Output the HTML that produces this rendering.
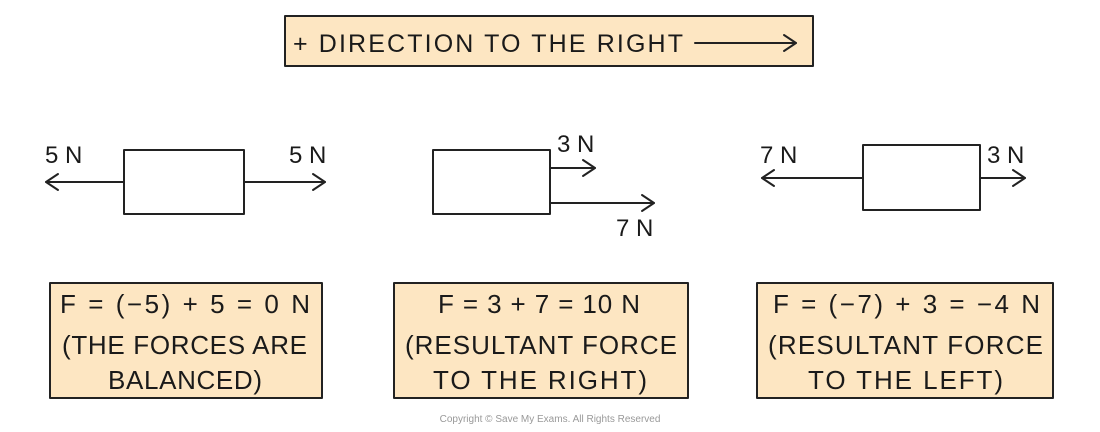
<!DOCTYPE html>
<html><head><meta charset="utf-8"><style>
html,body{margin:0;padding:0;background:#fff;}
svg{display:block;}
text{font-family:"Liberation Sans",sans-serif;fill:#1a1a1a;}
</style></head><body>
<svg width="1100" height="432" viewBox="0 0 1100 432" xmlns="http://www.w3.org/2000/svg">
<g stroke="#222" stroke-width="2" fill="none" stroke-linecap="round" stroke-linejoin="round">
<rect x="285" y="16" width="528" height="50" fill="#fde6c2"/>
<line x1="695" y1="43" x2="796" y2="43"/><polyline points="784,35 796,43 784,51"/>
<rect x="50" y="283" width="272" height="115" fill="#fde6c2"/>
<rect x="394" y="283" width="294" height="115" fill="#fde6c2"/>
<rect x="757" y="283" width="296" height="115" fill="#fde6c2"/>
<rect x="124" y="150" width="120" height="64" fill="#fff"/>
<line x1="46" y1="182" x2="124" y2="182"/><polyline points="58,174 46,182 58,190"/>
<line x1="244" y1="182" x2="325" y2="182"/><polyline points="313,174 325,182 313,190"/>
<rect x="433" y="150" width="117" height="64" fill="#fff"/>
<line x1="550" y1="168" x2="595" y2="168"/><polyline points="583,160 595,168 583,176"/>
<line x1="550" y1="203" x2="654" y2="203"/><polyline points="642,195 654,203 642,211"/>
<rect x="863" y="145" width="117" height="65" fill="#fff"/>
<line x1="762" y1="178" x2="863" y2="178"/><polyline points="774,170 762,178 774,186"/>
<line x1="980" y1="178" x2="1025" y2="178"/><polyline points="1013,170 1025,178 1013,186"/>
</g>
<text x="293" y="52" font-size="25" textLength="390" lengthAdjust="spacing">+ DIRECTION TO THE RIGHT</text>
<g font-size="24">
<text x="45" y="163">5 N</text>
<text x="289" y="163">5 N</text>
<text x="557" y="152">3 N</text>
<text x="616" y="236">7 N</text>
<text x="760" y="163">7 N</text>
<text x="987" y="163">3 N</text>
</g>
<g font-size="26" lengthAdjust="spacing">
<text x="60" y="313" textLength="250" lengthAdjust="spacing">F = (−5) + 5 = 0 N</text>
<text x="62" y="354" textLength="245" lengthAdjust="spacing">(THE FORCES ARE</text>
<text x="108" y="389" textLength="154" lengthAdjust="spacing">BALANCED)</text>
<text x="438" y="313" textLength="202" lengthAdjust="spacing">F = 3 + 7 = 10 N</text>
<text x="405" y="354" textLength="272" lengthAdjust="spacing">(RESULTANT FORCE</text>
<text x="433" y="389" textLength="214" lengthAdjust="spacing">TO THE RIGHT)</text>
<text x="773" y="313" textLength="267" lengthAdjust="spacing">F = (−7) + 3 = −4 N</text>
<text x="768" y="354" textLength="275" lengthAdjust="spacing">(RESULTANT FORCE</text>
<text x="808" y="389" textLength="195" lengthAdjust="spacing">TO THE LEFT)</text>
</g>
<text x="550" y="422" font-size="10" text-anchor="middle" style="fill:#999">Copyright © Save My Exams. All Rights Reserved</text>
</svg>
</body></html>
